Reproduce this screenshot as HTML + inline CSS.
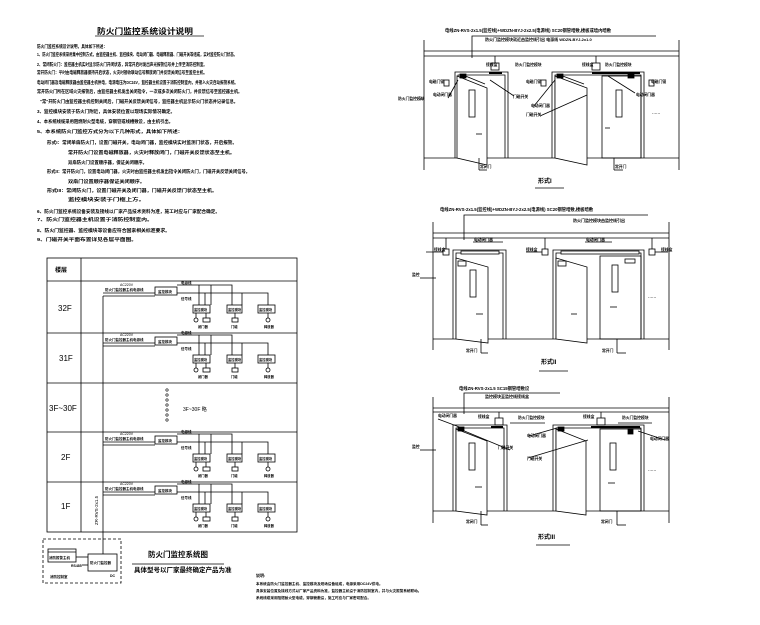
<!DOCTYPE html>
<html><head><meta charset="utf-8"><style>
html,body{margin:0;padding:0;background:#fff}
svg{display:block}
text{font-family:"Liberation Sans","Noto Sans CJK SC",sans-serif;fill:#000}
.b{font-weight:bold}
</style></head><body>
<svg width="760" height="625" viewBox="0 0 760 625" xmlns="http://www.w3.org/2000/svg" stroke="#000" fill="none" stroke-width="0.8">
<!-- Left text block -->
<g stroke="none" font-size="4.5" class="b" lengthAdjust="spacingAndGlyphs">
<text x="97" y="34" font-size="8" textLength="96" lengthAdjust="spacingAndGlyphs">防火门监控系统设计说明</text>
<text x="37" y="48" textLength="70" lengthAdjust="spacingAndGlyphs">防火门监控系统设计说明，具体如下所述：</text>
<text x="37" y="56" textLength="200" lengthAdjust="spacingAndGlyphs">1、防火门监控系统采用集中控制方式，由监控器主机、监控模块、电动闭门器、电磁释放器、门磁开关等组成，实时监控防火门状态。</text>
<text x="37" y="66" textLength="170" lengthAdjust="spacingAndGlyphs">2、常闭防火门：监控器主机实时显示防火门开闭状态，异常开启时发出声光报警信号并上传至消防控制室。</text>
<text x="37" y="74" textLength="170" lengthAdjust="spacingAndGlyphs">常开防火门：平时由电磁释放器保持开启状态，火灾时接收联动信号释放闭门并反馈关闭信号至监控主机。</text>
<text x="37" y="84" textLength="201" lengthAdjust="spacingAndGlyphs">电动闭门器及电磁释放器由监控器主机供电，电源电压为DC24V，监控器主机设置于消防控制室内，并接入火灾自动报警系统。</text>
<text x="37" y="93" textLength="205" lengthAdjust="spacingAndGlyphs">常开防火门所在区域火灾报警后，由监控器主机发出关闭指令，一次或多次关闭防火门，并反馈信号至监控器主机。</text>
<text x="40" y="103" textLength="198" lengthAdjust="spacingAndGlyphs">"常"开防火门由监控器主机控制关闭后，门磁开关反馈关闭信号，监控器主机显示防火门状态并记录信息。</text>
<text x="37" y="113" textLength="138" lengthAdjust="spacingAndGlyphs">3、监控模块安装于防火门附近，具体安装位置以现场实际情况确定。</text>
<text x="37" y="123" textLength="136" lengthAdjust="spacingAndGlyphs">4、本系统线缆采用阻燃耐火型电缆，穿钢管或线槽敷设，由主机引出。</text>
<text x="37" y="133" textLength="146" lengthAdjust="spacingAndGlyphs">5、本系统防火门监控方式分为以下几种形式，具体如下所述：</text>
<text x="47" y="144" textLength="190" lengthAdjust="spacingAndGlyphs">形式I：常闭单扇防火门，设置门磁开关，电动闭门器，监控模块实时监测门状态，开启报警。</text>
<text x="68" y="154" textLength="167" lengthAdjust="spacingAndGlyphs">常开防火门设置电磁释放器，火灾时释放闭门，门磁开关反馈状态至主机。</text>
<text x="68" y="164" textLength="79" lengthAdjust="spacingAndGlyphs">双扇防火门设置顺序器，保证关闭顺序。</text>
<text x="47" y="173" textLength="203" lengthAdjust="spacingAndGlyphs">形式II：常开防火门，设置电动闭门器，火灾时由监控器主机发出指令关闭防火门，门磁开关反馈关闭信号。</text>
<text x="68" y="183" textLength="77" lengthAdjust="spacingAndGlyphs">双扇门设置顺序器保证关闭顺序。</text>
<text x="47" y="192" textLength="170" lengthAdjust="spacingAndGlyphs">形式III：常闭防火门，设置门磁开关及闭门器，门磁开关反馈门状态至主机。</text>
<text x="68" y="201" textLength="77" lengthAdjust="spacingAndGlyphs">监控模块安装于门框上方。</text>
<text x="37" y="213" textLength="183" lengthAdjust="spacingAndGlyphs">6、防火门监控系统设备安装及接线以厂家产品技术资料为准，施工时应与厂家配合确定。</text>
<text x="37" y="221" textLength="116" lengthAdjust="spacingAndGlyphs">7、防火门监控器主机设置于消防控制室内。</text>
<text x="37" y="232" textLength="133" lengthAdjust="spacingAndGlyphs">8、防火门监控器、监控模块等设备应符合国家相关标准要求。</text>
<text x="37" y="241" textLength="100" lengthAdjust="spacingAndGlyphs">9、门磁开关平面布置详见各层平面图。</text>
</g>
<line x1="95" y1="36" x2="204" y2="36" stroke="#888" stroke-width="1.5"/>

<!-- Table -->
<rect x="47" y="258" width="250" height="274"/>
<line x1="81" y1="258" x2="81" y2="532"/>
<line x1="47" y1="281" x2="297" y2="281"/>
<line x1="47" y1="333" x2="297" y2="333"/>
<line x1="47" y1="383" x2="297" y2="383"/>
<line x1="47" y1="432" x2="297" y2="432"/>
<line x1="47" y1="482" x2="297" y2="482"/>
<g stroke="none" font-size="8">
<text x="55" y="272" font-size="6" class="b">楼层</text>
<text x="58" y="311">32F</text>
<text x="59" y="361">31F</text>
<text x="49" y="411">3F~30F</text>
<text x="61" y="460">2F</text>
<text x="61" y="509">1F</text>
<text x="183" y="411" font-size="5">3F~30F 略</text>
</g>
<g fill="none" stroke-width="0.6">
<circle cx="167" cy="390" r="1.2"/><circle cx="167" cy="395" r="1.2"/><circle cx="167" cy="400" r="1.2"/><circle cx="167" cy="405" r="1.2"/><circle cx="167" cy="410" r="1.2"/><circle cx="167" cy="415" r="1.2"/><circle cx="167" cy="420" r="1.2"/>
</g>
<line x1="103" y1="296" x2="103" y2="550"/>
<text x="98" y="525" font-size="4.5" stroke="none" transform="rotate(-90 98 525)">ZR-RVS-2x1.5</text>

<g>
<text x="120" y="286" font-size="3.5" stroke="none">AC220V</text>
<text x="105" y="291" font-size="3.5" stroke="none" class="b">防火门监控器主机电源线</text>
<line x1="103" y1="293" x2="155" y2="293"/>
<line x1="103" y1="296" x2="155" y2="296"/>
<rect x="155" y="287" width="22" height="8"/>
<text x="158" y="293" font-size="3.5" stroke="none" class="b">监控模块</text>
<polyline points="177,285 232,285 232,305"/>
<polyline points="177,293 268,293 268,305"/>
<line x1="199" y1="285" x2="199" y2="305"/>
<line x1="211" y1="285" x2="211" y2="305"/>
<line x1="205" y1="293" x2="205" y2="305"/>
<line x1="242" y1="293" x2="242" y2="305"/>
<text x="181" y="284" font-size="3.5" stroke="none" class="b">电源线</text>
<text x="181" y="300" font-size="3.5" stroke="none" class="b">信号线</text>
<rect x="193" y="305" width="17" height="8"/>
<rect x="227" y="305" width="15" height="8"/>
<rect x="258" y="305" width="17" height="8"/>
<text x="194" y="311" font-size="3.3" stroke="none" class="b">监控模块</text>
<text x="228" y="311" font-size="3.3" stroke="none" class="b">监控模块</text>
<text x="259" y="311" font-size="3.3" stroke="none" class="b">监控模块</text>
<line x1="196" y1="313" x2="196" y2="318"/><circle cx="196" cy="320" r="2"/>
<line x1="206" y1="313" x2="206" y2="318"/><rect x="203" y="318" width="7" height="4"/>
<line x1="235" y1="313" x2="235" y2="318"/><rect x="232" y="318" width="6" height="4"/>
<line x1="268" y1="313" x2="268" y2="318"/><circle cx="268" cy="320" r="2"/>
<text x="198" y="328" font-size="3.3" stroke="none" class="b">闭门器</text>
<text x="231" y="328" font-size="3.3" stroke="none" class="b">门磁</text>
<text x="264" y="328" font-size="3.3" stroke="none" class="b">释放器</text>
</g>
<g transform="translate(0,50)">
<text x="120" y="286" font-size="3.5" stroke="none">AC220V</text>
<text x="105" y="291" font-size="3.5" stroke="none" class="b">防火门监控器主机电源线</text>
<line x1="103" y1="293" x2="155" y2="293"/>
<line x1="103" y1="296" x2="155" y2="296"/>
<rect x="155" y="287" width="22" height="8"/>
<text x="158" y="293" font-size="3.5" stroke="none" class="b">监控模块</text>
<polyline points="177,285 232,285 232,305"/>
<polyline points="177,293 268,293 268,305"/>
<line x1="199" y1="285" x2="199" y2="305"/>
<line x1="211" y1="285" x2="211" y2="305"/>
<line x1="205" y1="293" x2="205" y2="305"/>
<line x1="242" y1="293" x2="242" y2="305"/>
<text x="181" y="284" font-size="3.5" stroke="none" class="b">电源线</text>
<text x="181" y="300" font-size="3.5" stroke="none" class="b">信号线</text>
<rect x="193" y="305" width="17" height="8"/>
<rect x="227" y="305" width="15" height="8"/>
<rect x="258" y="305" width="17" height="8"/>
<text x="194" y="311" font-size="3.3" stroke="none" class="b">监控模块</text>
<text x="228" y="311" font-size="3.3" stroke="none" class="b">监控模块</text>
<text x="259" y="311" font-size="3.3" stroke="none" class="b">监控模块</text>
<line x1="196" y1="313" x2="196" y2="318"/><circle cx="196" cy="320" r="2"/>
<line x1="206" y1="313" x2="206" y2="318"/><rect x="203" y="318" width="7" height="4"/>
<line x1="235" y1="313" x2="235" y2="318"/><rect x="232" y="318" width="6" height="4"/>
<line x1="268" y1="313" x2="268" y2="318"/><circle cx="268" cy="320" r="2"/>
<text x="198" y="328" font-size="3.3" stroke="none" class="b">闭门器</text>
<text x="231" y="328" font-size="3.3" stroke="none" class="b">门磁</text>
<text x="264" y="328" font-size="3.3" stroke="none" class="b">释放器</text>
</g>
<g transform="translate(0,149)">
<text x="120" y="286" font-size="3.5" stroke="none">AC220V</text>
<text x="105" y="291" font-size="3.5" stroke="none" class="b">防火门监控器主机电源线</text>
<line x1="103" y1="293" x2="155" y2="293"/>
<line x1="103" y1="296" x2="155" y2="296"/>
<rect x="155" y="287" width="22" height="8"/>
<text x="158" y="293" font-size="3.5" stroke="none" class="b">监控模块</text>
<polyline points="177,285 232,285 232,305"/>
<polyline points="177,293 268,293 268,305"/>
<line x1="199" y1="285" x2="199" y2="305"/>
<line x1="211" y1="285" x2="211" y2="305"/>
<line x1="205" y1="293" x2="205" y2="305"/>
<line x1="242" y1="293" x2="242" y2="305"/>
<text x="181" y="284" font-size="3.5" stroke="none" class="b">电源线</text>
<text x="181" y="300" font-size="3.5" stroke="none" class="b">信号线</text>
<rect x="193" y="305" width="17" height="8"/>
<rect x="227" y="305" width="15" height="8"/>
<rect x="258" y="305" width="17" height="8"/>
<text x="194" y="311" font-size="3.3" stroke="none" class="b">监控模块</text>
<text x="228" y="311" font-size="3.3" stroke="none" class="b">监控模块</text>
<text x="259" y="311" font-size="3.3" stroke="none" class="b">监控模块</text>
<line x1="196" y1="313" x2="196" y2="318"/><circle cx="196" cy="320" r="2"/>
<line x1="206" y1="313" x2="206" y2="318"/><rect x="203" y="318" width="7" height="4"/>
<line x1="235" y1="313" x2="235" y2="318"/><rect x="232" y="318" width="6" height="4"/>
<line x1="268" y1="313" x2="268" y2="318"/><circle cx="268" cy="320" r="2"/>
<text x="198" y="328" font-size="3.3" stroke="none" class="b">闭门器</text>
<text x="231" y="328" font-size="3.3" stroke="none" class="b">门磁</text>
<text x="264" y="328" font-size="3.3" stroke="none" class="b">释放器</text>
</g>
<g transform="translate(0,199)">
<text x="120" y="286" font-size="3.5" stroke="none">AC220V</text>
<text x="105" y="291" font-size="3.5" stroke="none" class="b">防火门监控器主机电源线</text>
<line x1="103" y1="293" x2="155" y2="293"/>
<line x1="103" y1="296" x2="155" y2="296"/>
<rect x="155" y="287" width="22" height="8"/>
<text x="158" y="293" font-size="3.5" stroke="none" class="b">监控模块</text>
<polyline points="177,285 232,285 232,305"/>
<polyline points="177,293 268,293 268,305"/>
<line x1="199" y1="285" x2="199" y2="305"/>
<line x1="211" y1="285" x2="211" y2="305"/>
<line x1="205" y1="293" x2="205" y2="305"/>
<line x1="242" y1="293" x2="242" y2="305"/>
<text x="181" y="284" font-size="3.5" stroke="none" class="b">电源线</text>
<text x="181" y="300" font-size="3.5" stroke="none" class="b">信号线</text>
<rect x="193" y="305" width="17" height="8"/>
<rect x="227" y="305" width="15" height="8"/>
<rect x="258" y="305" width="17" height="8"/>
<text x="194" y="311" font-size="3.3" stroke="none" class="b">监控模块</text>
<text x="228" y="311" font-size="3.3" stroke="none" class="b">监控模块</text>
<text x="259" y="311" font-size="3.3" stroke="none" class="b">监控模块</text>
<line x1="196" y1="313" x2="196" y2="318"/><circle cx="196" cy="320" r="2"/>
<line x1="206" y1="313" x2="206" y2="318"/><rect x="203" y="318" width="7" height="4"/>
<line x1="235" y1="313" x2="235" y2="318"/><rect x="232" y="318" width="6" height="4"/>
<line x1="268" y1="313" x2="268" y2="318"/><circle cx="268" cy="320" r="2"/>
<text x="198" y="328" font-size="3.3" stroke="none" class="b">闭门器</text>
<text x="231" y="328" font-size="3.3" stroke="none" class="b">门磁</text>
<text x="264" y="328" font-size="3.3" stroke="none" class="b">释放器</text>
</g>

<rect x="43" y="539" width="78" height="44" stroke-dasharray="3,2"/>
<rect x="48" y="549" width="28" height="13"/>
<line x1="48" y1="552" x2="76" y2="552"/>
<rect x="88" y="554" width="29" height="17"/>
<line x1="103" y1="550" x2="103" y2="554"/>
<line x1="76" y1="557" x2="88" y2="557"/>
<line x1="82" y1="565" x2="88" y2="565"/>
<g stroke="none" font-size="3.5" class="b">
<text x="49" y="559">消防报警主机</text>
<text x="90" y="564">防火门监控器</text>
<text x="71" y="567">RS485</text>
<text x="110" y="577">DC</text>
<text x="50" y="578">消防控制室</text>
</g>
<g stroke="none">
<text x="148" y="557" font-size="7.5" class="b">防火门监控系统图</text>
<text x="134" y="572" font-size="6.5" class="b">具体型号以厂家最终确定产品为准</text>
<text x="256" y="577" font-size="4" class="b">说明:</text>
<text x="256" y="585" font-size="3.6" class="b">本系统由防火门监控器主机、监控模块及现场设备组成，电源采用DC24V供电。</text>
<text x="256" y="592" font-size="3.6" class="b">具体安装位置及接线方式以厂家产品资料为准，监控器主机设于消防控制室内，并与火灾报警系统联动。</text>
<text x="256" y="599" font-size="3.6" class="b">系统线缆采用阻燃耐火型电缆，穿钢管敷设，施工时应与厂家密切配合。</text>
</g>
<line x1="132" y1="564" x2="224" y2="564"/>

<!-- 形式I -->
<g>
<line x1="424" y1="51" x2="679" y2="51"/>
<line x1="424" y1="56" x2="679" y2="56"/>
<line x1="424" y1="40" x2="424" y2="170"/>
<line x1="679" y1="40" x2="679" y2="170"/>
<line x1="424" y1="158" x2="679" y2="158"/>
<polyline points="472,58 472,36 656,36"/>
<text x="445" y="32" font-size="4.3" stroke="none" class="b">电线ZN-RVS-2x1.5(监控线)+WDZN-BYJ-2x2.5(电源线) SC20钢管暗敷,楼板或墙内暗敷</text>
<text x="485" y="41" font-size="4" stroke="none" class="b">防火门监控模块就近由监控线引出 电源线 WDZN-BYJ-2x1.0</text>
<line x1="495" y1="56" x2="495" y2="63"/><rect x="491" y="63" width="8" height="7"/>
<line x1="596" y1="56" x2="596" y2="63"/><rect x="592" y="63" width="8" height="7"/>
<g transform="translate(455,72)">
<path d="M0,86 V0 H53 V86 M3,86 V3 H50 V86"/>
<polygon points="2,4 32,16 32,93 2,86" fill="#fff"/>
<rect x="14" y="18" width="6" height="27"/>
<line x1="21" y1="62" x2="27" y2="62"/>
<rect x="5" y="2" width="6" height="4" fill="#000"/>
<line x1="8" y1="3" x2="30" y2="12"/>
<line x1="34" y1="1" x2="47" y2="1" stroke-width="2"/>
</g>
<g transform="translate(552,72)">
<path d="M0,86 V0 H92 V86 M3,86 V3 H89 V86"/>
<polygon points="3,4 35,16 35,93 3,86" fill="#fff"/>
<rect x="50" y="4" width="39" height="82"/>
<rect x="64" y="18" width="6" height="27"/>
<line x1="53" y1="56" x2="58" y2="56"/>
<rect x="5" y="2" width="6" height="4" fill="#000"/>
<line x1="8" y1="3" x2="32" y2="12"/>
<line x1="40" y1="1" x2="88" y2="1" stroke-width="2"/>
<rect x="76" y="2" width="6" height="4" fill="#000"/>
</g>
<rect x="444" y="80" width="5" height="6"/><rect x="541" y="80" width="5" height="6"/><rect x="649" y="80" width="5" height="6"/>
<line x1="514" y1="96" x2="490" y2="80"/>
<line x1="540" y1="116" x2="587" y2="95"/>
<line x1="635" y1="93" x2="608" y2="76"/>
<line x1="448" y1="98" x2="458" y2="80"/>
<line x1="534" y1="106" x2="555" y2="80"/>
<line x1="479" y1="158" x2="479" y2="170"/><line x1="479" y1="170" x2="487" y2="170"/>
<line x1="614" y1="158" x2="614" y2="170"/><line x1="614" y1="170" x2="623" y2="170"/>
<line x1="420" y1="99" x2="424" y2="99"/>
<text x="652" y="114" font-size="5" stroke="none">......</text>
<g stroke="none" font-size="3.8" class="b">
<text x="429" y="83">电磁门锁</text><text x="526" y="83">电磁门锁</text><text x="651" y="83">电磁门锁</text>
<text x="486" y="66">接线盒</text><text x="582" y="66">接线盒</text>
<text x="515" y="66">防火门监控模块</text><text x="605" y="66">防火门监控模块</text>
<text x="433" y="96">电动闭门器</text><text x="513" y="98">门磁开关</text><text x="526" y="116">门磁开关</text><text x="636" y="96">电动闭门器</text>
<text x="531" y="107">电动闭门器</text>
<text x="480" y="168">常闭门</text><text x="615" y="168">常开门</text>
<text x="398" y="100">防火门监控模块</text>
</g>
<text x="538" y="183" font-size="6" stroke="none" class="b">形式I</text>
<line x1="535" y1="188" x2="564" y2="188"/>
</g>

<!-- 形式II -->
<g>
<line x1="433" y1="233" x2="669" y2="233"/>
<line x1="433" y1="238" x2="669" y2="238"/>
<line x1="433" y1="222" x2="433" y2="350"/>
<line x1="669" y1="222" x2="669" y2="350"/>
<line x1="433" y1="339" x2="669" y2="339"/>
<polyline points="464,240 464,215 648,215"/>
<text x="440" y="211" font-size="4.3" stroke="none" class="b">电线ZN-RVS-2x1.5(监控线)+WDZN-BYJ-2x2.5(电源线) SC20钢管暗敷,楼板暗敷</text>
<text x="573" y="222" font-size="4" stroke="none" class="b">防火门监控模块由监控线引出</text>
<line x1="446" y1="238" x2="446" y2="249"/><rect x="443" y="249" width="6" height="6"/>
<line x1="545" y1="238" x2="545" y2="249"/><rect x="542" y="249" width="6" height="6"/>
<line x1="652" y1="238" x2="652" y2="249"/><rect x="649" y="249" width="6" height="6"/>
<line x1="426" y1="252" x2="443" y2="252"/>
<line x1="526" y1="252" x2="542" y2="252"/>
<line x1="655" y1="252" x2="668" y2="252"/>
<g transform="translate(453,250)">
<path d="M0,89 V0 H53 V89 M3,89 V3 H50 V89"/>
<polygon points="3,8 35,17 35,93 3,89" fill="#fff"/>
<rect x="8" y="1" width="38" height="3" fill="#fff"/>
<rect x="17" y="20" width="6" height="27"/>
<line x1="23" y1="64" x2="30" y2="64"/>
<rect x="5" y="11" width="8" height="5"/>
</g>
<g transform="translate(553,250)">
<path d="M0,89 V0 H91 V89 M3,89 V3 H88 V89"/>
<polygon points="3,8 34,17 34,93 3,89" fill="#fff"/>
<rect x="47" y="6" width="41" height="83"/>
<rect x="8" y="1" width="78" height="3" fill="#fff"/>
<rect x="59" y="15" width="6" height="27"/>
<rect x="72" y="9" width="10" height="4"/>
<line x1="57" y1="57" x2="64" y2="57"/>
<line x1="18" y1="64" x2="24" y2="64"/>
<rect x="5" y="11" width="8" height="5"/>
</g>
<line x1="473" y1="242" x2="503" y2="242"/>
<line x1="585" y1="242" x2="612" y2="242"/>
<line x1="481" y1="339" x2="481" y2="353"/><line x1="481" y1="353" x2="488" y2="353"/>
<line x1="617" y1="339" x2="617" y2="353"/><line x1="617" y1="353" x2="626" y2="353"/>
<line x1="420" y1="278" x2="436" y2="278"/>
<text x="648" y="298" font-size="5" stroke="none">......</text>
<g stroke="none" font-size="3.8" class="b">
<text x="434" y="251">接线盒</text><text x="526" y="251">接线盒</text><text x="661" y="251">接线盒</text>
<text x="474" y="241">电动闭门器</text><text x="586" y="241">电动闭门器</text>
<text x="466" y="352">常开门</text><text x="602" y="352">常开门</text>
<text x="412" y="276">监控</text>
</g>
<text x="541" y="364" font-size="6" stroke="none" class="b">形式II</text>
<line x1="539" y1="371" x2="568" y2="371"/>
</g>

<!-- 形式III -->
<g>
<line x1="433" y1="408" x2="669" y2="408"/>
<line x1="433" y1="412" x2="669" y2="412"/>
<line x1="433" y1="397" x2="433" y2="523"/>
<line x1="669" y1="397" x2="669" y2="523"/>
<line x1="433" y1="511" x2="669" y2="511"/>
<polyline points="464,414 464,393 560,393"/>
<text x="459" y="390" font-size="4.3" stroke="none" class="b">电线ZN-RVS-2x1.5 SC15钢管暗敷设</text>
<text x="485" y="398" font-size="4" stroke="none" class="b">监控模块至监控线接线盒</text>
<line x1="499" y1="412" x2="499" y2="418"/><rect x="495" y="418" width="8" height="7"/>
<line x1="601" y1="412" x2="601" y2="418"/><rect x="597" y="418" width="8" height="7"/>
<g transform="translate(453,425)">
<path d="M0,86 V0 H54 V86 M3,86 V3 H51 V86"/>
<polygon points="3,4 34,16 34,90 3,86" fill="#fff"/>
<rect x="16" y="18" width="6" height="27"/>
<line x1="22" y1="62" x2="29" y2="62"/>
<rect x="5" y="2" width="6" height="4" fill="#000"/>
<line x1="38" y1="2" x2="50" y2="2" stroke-width="2"/>
</g>
<g transform="translate(553,425)">
<path d="M0,86 V0 H91 V86 M3,86 V3 H88 V86"/>
<polygon points="3,4 33,16 33,90 3,86" fill="#fff"/>
<rect x="47" y="4" width="41" height="82"/>
<rect x="57" y="18" width="6" height="27"/>
<line x1="55" y1="58" x2="62" y2="58"/>
<rect x="5" y="2" width="6" height="4" fill="#000"/>
<rect x="75" y="4" width="5" height="5" fill="#000"/>
<line x1="38" y1="2" x2="87" y2="2" stroke-width="2"/>
</g>
<line x1="438" y1="419" x2="462" y2="428"/>
<line x1="462" y1="430" x2="510" y2="450"/>
<line x1="528" y1="458" x2="588" y2="440"/>
<line x1="529" y1="436" x2="557" y2="428"/>
<line x1="510" y1="423" x2="545" y2="423"/>
<line x1="618" y1="423" x2="652" y2="423"/>
<line x1="638" y1="431" x2="665" y2="440"/>
<line x1="481" y1="511" x2="481" y2="525"/><line x1="481" y1="525" x2="488" y2="525"/>
<line x1="617" y1="511" x2="617" y2="525"/><line x1="617" y1="525" x2="626" y2="525"/>
<line x1="420" y1="450" x2="436" y2="450"/>
<text x="648" y="471" font-size="5" stroke="none">......</text>
<g stroke="none" font-size="3.8" class="b">
<text x="438" y="417">电动闭门器</text><text x="478" y="418">接线盒</text><text x="583" y="418">接线盒</text>
<text x="518" y="419">防火门监控模块</text><text x="622" y="419">防火门监控模块</text>
<text x="498" y="449">门磁开关</text><text x="527" y="437">电动闭门器</text><text x="527" y="460">门磁开关</text><text x="650" y="440">电动闭门器</text>
<text x="466" y="523">常闭门</text><text x="601" y="523">常闭门</text>
<text x="412" y="448">监控</text>
</g>
<text x="538" y="539" font-size="6" stroke="none" class="b">形式III</text>
<line x1="536" y1="545" x2="570" y2="545"/>
</g>
</svg>
</body></html>
